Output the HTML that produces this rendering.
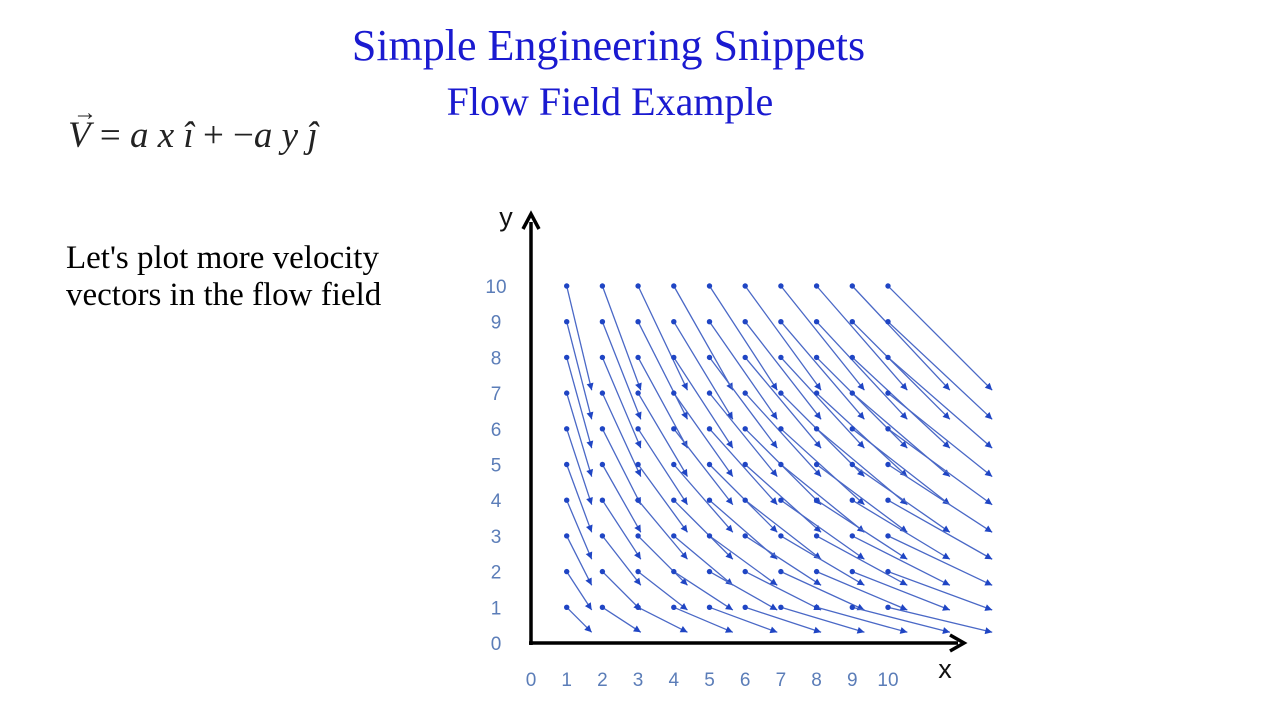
<!DOCTYPE html>
<html><head><meta charset="utf-8"><style>
body{margin:0;background:#fff;width:1280px;height:720px;overflow:hidden;position:relative;font-family:"Liberation Serif",serif}
.t{position:absolute;white-space:nowrap}
</style></head><body>
<div class="t" style="left:0;width:1217px;text-align:center;top:20px;font-size:44px;color:#1a1ad0">Simple Engineering Snippets</div>
<div class="t" style="left:0;width:1220px;text-align:center;top:78px;font-size:40px;color:#1a1ad0">Flow Field Example</div>
<div class="t" style="left:68px;top:114px;font-size:37px;color:#222"><i>V</i> = <i>a x î</i> + −<i>a y ĵ</i></div>
<div class="t" style="left:73px;top:100px;font-size:24px;color:#222">→</div>
<div class="t" style="left:66px;top:240px;font-size:33px;line-height:37px;color:#000">Let's plot more velocity<br>vectors in the flow field</div>
<svg width="1280" height="720" style="position:absolute;left:0;top:0">
<g id="marks"></g>
<g id="axes"></g>
</svg>
<script>
const xCats=[1,2,3,4,5,6,7,8,9,10];
const yCats=[1,2,3,4,5,6,7,8,9,10];
const xTicks=["0","1","2","3","4","5","6","7","8","9","10"];
const yTicks=["0","1","2","3","4","5","6","7","8","9","10"];
const X0=531,Y0=643,S=35.7;
const sx=v=>X0+v*S, sy=v=>Y0-v*S;
const NS="http://www.w3.org/2000/svg";
const marks=document.getElementById('marks'), axes=document.getElementById('axes');
function mk(tag,at,par){const e=document.createElementNS(NS,tag);for(const k in at)e.setAttribute(k,at[k]);par.appendChild(e);return e;}
const CLIP=995;
xCats.forEach(x=>yCats.forEach(y=>{
  const px=sx(x),py=sy(y);
  let dx=25*Math.pow(x,0.62),dy=25*Math.pow(y,0.62);
  let f=1; if(px+dx>CLIP) f=(CLIP-px)/dx;
  const ex=px+dx*f,ey=py+dy*f;
  const l=mk('line',{x1:px,y1:py,x2:ex,y2:ey,stroke:'#4a68c6','stroke-width':1.3},marks);
  
  
  const a=Math.atan2(dy,dx),h=7,w=3.5;
  const bx=ex-h*Math.cos(a),by=ey-h*Math.sin(a);
  const p=mk('polygon',{points:`${ex},${ey} ${bx-w*Math.sin(a)},${by+w*Math.cos(a)} ${bx+w*Math.sin(a)},${by-w*Math.cos(a)}`,fill:'#1f45c4'},marks);
  
  
  const c=mk('circle',{cx:px,cy:py,r:2.7,fill:'#1f45c4'},marks);
  
  
}));
const ya=mk('path',{d:`M${X0} ${Y0+2} L${X0} 222`,stroke:'#000','stroke-width':3.5,fill:'none'},axes);


const xa=mk('path',{d:`M${X0-2} ${Y0} L958 ${Y0}`,stroke:'#000','stroke-width':3.5,fill:'none'},axes);


const yh=mk('path',{d:`M${X0-8} 229 L${X0} 214 L${X0+8} 229`,stroke:'#000','stroke-width':3.5,fill:'none'},axes);


const xh=mk('path',{d:`M950 ${Y0-8} L964 ${Y0} L950 ${Y0+8}`,stroke:'#000','stroke-width':3.5,fill:'none'},axes);


xTicks.forEach((t,i)=>{const e=mk('text',{x:sx(i),y:686,'text-anchor':'middle','font-family':'Liberation Sans, sans-serif','font-size':19,fill:'#5b7db8'},axes);e.textContent=t;

});
yTicks.forEach((t,i)=>{const e=mk('text',{x:496,y:sy(i)+7,'text-anchor':'middle','font-family':'Liberation Sans, sans-serif','font-size':19,fill:'#5b7db8'},axes);e.textContent=t;

});
const yl=mk('text',{x:506,y:226,'text-anchor':'middle','font-family':'Liberation Sans, sans-serif','font-size':27,fill:'#111'},axes);yl.textContent='y';


const xl=mk('text',{x:945,y:678,'text-anchor':'middle','font-family':'Liberation Sans, sans-serif','font-size':27,fill:'#111'},axes);xl.textContent='x';


</script>
</body></html>
